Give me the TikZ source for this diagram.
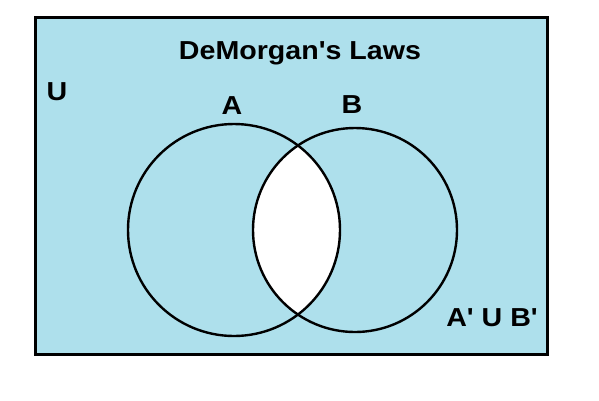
\documentclass[tikz,border=0pt]{standalone}
\usepackage{fontspec}
\newfontfamily\labelfont{Liberation Sans}[FakeStretch=1.1]
\usepackage{tikz}
\usetikzlibrary{calc, positioning}

\definecolor{universe}{RGB}{174,224,236}

\begin{document}
\begin{tikzpicture}[
            x=1pt, y=-1pt,
            set circle/.style={draw, line width=2.4pt},
            set label/.style={font=\labelfont\bfseries\fontsize{26}{26}\selectfont, inner sep=0pt}
        ]

            \pgfmathsetmacro{\radA}{106}
            \pgfmathsetmacro{\radB}{102}

            \useasboundingbox (0,0) rectangle (599,400);

            \coordinate (UL) at (35,17);
            \coordinate (LR) at (547,354);
            \coordinate (cA) at (234,230);
            \coordinate (cB) at (355,230);

            % universe
            \draw[fill=universe, line width=3pt] (UL) rectangle (LR);

            % intersection left white
            \begin{scope}
                \clip (cA) circle[radius=\radA pt];
                \fill[white] (cB) circle[radius=\radB pt];
            \end{scope}

            \draw[set circle] (cA) circle[radius=\radA pt];
            \draw[set circle] (cB) circle[radius=\radB pt];

            \node[set label] (title) at (300,53) {DeMorgan's Laws};
            \node[set label] (U) at (57,92) {U};
            \node[set label] (A) at (232,106) {A};
            \node[set label] (B) at (352,105) {B};
            \node[set label] (comp) at (492,318) {A' U B'};
        \end{tikzpicture}
\end{document}
